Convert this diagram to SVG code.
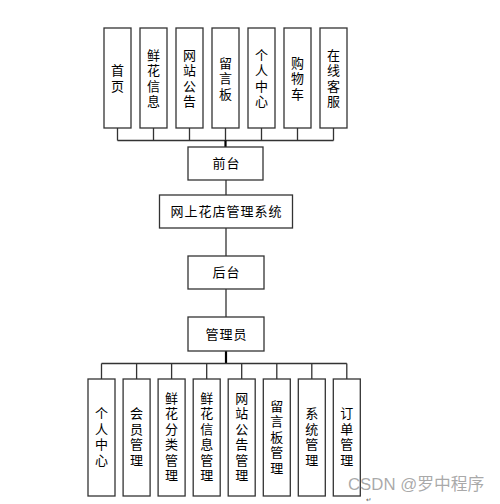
<svg xmlns="http://www.w3.org/2000/svg" width="500" height="504" viewBox="0 0 500 504">
<style>
.box{fill:#fff;stroke:#333;stroke-width:1.3}
.t{font-family:"Noto Sans CJK SC","Noto Sans",sans-serif;font-size:13px;fill:#000;text-anchor:middle}
.h{letter-spacing:1px}
.v{writing-mode:vertical-rl;text-orientation:upright;letter-spacing:2.5px}
.ln{stroke:#333;stroke-width:1.3;fill:none}
.thick{stroke:#000;stroke-width:2.2;fill:none}
</style>
<rect width="500" height="504" fill="#fff"/>
<g id="connectors">
<path class="ln" d="M117.5 128V140.5M153.5 128V140.5M189.5 128V140.5M225.5 128V140.5M261.5 128V140.5M297.5 128V140.5M333.5 128V140.5M117.5 140.5H333.5"/>
<path class="thick" d="M225.5 140.5V147"/>
<path class="ln" d="M226 180V195M226 228V256M226 289V317"/>
<path class="thick" d="M226 351V363.5"/>
<path class="ln" d="M101.5 363.5H346.8M101.5 363.5V379M136.6 363.5V379M171.6 363.5V379M206.7 363.5V379M241.7 363.5V379M276.8 363.5V379M311.8 363.5V379M346.8 363.5V379"/>
</g>
<g id="n-shouye"><rect class="box" x="104" y="28" width="27" height="100"/><text class="t v" x="117.5" y="79.5">首页</text></g>
<g id="n-xianhuaxinxi"><rect class="box" x="140" y="28" width="27" height="100"/><text class="t v" x="153.5" y="79.5">鲜花信息</text></g>
<g id="n-wangzhangonggao"><rect class="box" x="176" y="28" width="27" height="100"/><text class="t v" x="189.5" y="79.5">网站公告</text></g>
<g id="n-liuyanban"><rect class="box" x="212" y="28" width="27" height="100"/><text class="t v" x="225.5" y="79.5">留言板</text></g>
<g id="n-gerenzhongxin"><rect class="box" x="248" y="28" width="27" height="100"/><text class="t v" x="261.5" y="79.5">个人中心</text></g>
<g id="n-gouwuche"><rect class="box" x="284" y="28" width="27" height="100"/><text class="t v" x="297.5" y="79.5">购物车</text></g>
<g id="n-zaixiankefu"><rect class="box" x="320" y="28" width="27" height="100"/><text class="t v" x="333.5" y="79.5">在线客服</text></g>
<g id="n-qiantai"><rect class="box" x="188" y="147" width="75" height="33"/><text class="t h" x="226.5" y="168">前台</text></g>
<g id="n-system"><rect class="box" x="159.5" y="195" width="133" height="33"/><text class="t h" x="226.5" y="216">网上花店管理系统</text></g>
<g id="n-houtai"><rect class="box" x="188" y="256" width="76" height="33"/><text class="t h" x="226.5" y="277">后台</text></g>
<g id="n-guanliyuan"><rect class="box" x="188" y="317" width="76" height="34"/><text class="t h" x="226.5" y="338.5">管理员</text></g>
<g id="b-gerenzhongxin"><rect class="box" x="88" y="379" width="27" height="117"/><text class="t v" x="101.5" y="438">个人中心</text></g>
<g id="b-huiyuan"><rect class="box" x="123.1" y="379" width="27" height="117"/><text class="t v" x="136.6" y="438">会员管理</text></g>
<g id="b-fenlei"><rect class="box" x="158.1" y="379" width="27" height="117"/><text class="t v" x="171.6" y="438">鲜花分类管理</text></g>
<g id="b-xinxi"><rect class="box" x="193.2" y="379" width="27" height="117"/><text class="t v" x="206.7" y="438">鲜花信息管理</text></g>
<g id="b-gonggao"><rect class="box" x="228.2" y="379" width="27" height="117"/><text class="t v" x="241.7" y="438">网站公告管理</text></g>
<g id="b-liuyanban"><rect class="box" x="263.3" y="379" width="27" height="117"/><text class="t v" x="276.8" y="438">留言板管理</text></g>
<g id="b-xitong"><rect class="box" x="298.3" y="379" width="27" height="117"/><text class="t v" x="311.8" y="438">系统管理</text></g>
<g id="b-dingdan"><rect class="box" x="333.3" y="379" width="27" height="117"/><text class="t v" x="346.8" y="438">订单管理</text></g>
<text x="348" y="490" style="font-family:'Liberation Sans','Noto Sans CJK SC',sans-serif;font-size:16.8px;fill:#9a9a9a;fill-opacity:0.85">CSDN @罗中程序</text>
<text x="366" y="502" style="font-family:'DejaVu Sans',sans-serif;font-size:6.5px;fill:#555">↵</text>
</svg>
